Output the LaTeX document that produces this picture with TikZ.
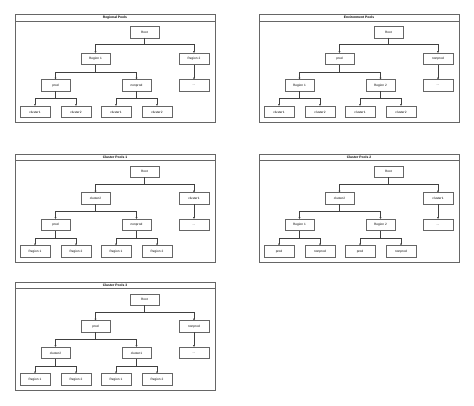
\documentclass[tikz,border=0pt]{standalone}
\usepackage{fontspec}
\setmainfont{Liberation Sans}
\usetikzlibrary{arrows.meta,positioning}

\begin{document}
\begin{tikzpicture}[
    node distance=1.45cm,
    box/.style={draw=black!60, line width=1.3pt, fill=white, minimum width=2.95cm, minimum height=1.15cm, inner sep=1pt, align=center, font=\fontsize{9}{10}\selectfont},
    frame/.style={draw=black!60, line width=1.3pt},
    ttl/.style={font=\fontsize{9.5}{11}\selectfont\bfseries},
    arr/.style={-{Triangle[length=5pt, width=5pt]}, draw=black!75, line width=1.3pt},
]
\useasboundingbox (0,0) rectangle (47.4,-40.5);

% Regional Pools
\begin{scope}[shift={(1.5,-1.45)}]
\draw[frame] (0,0) rectangle (20,-10.8);
\draw[frame] (0,-0.65) -- (20,-0.65);
\node[ttl] (reg-title) at (10,-0.325) {Regional Pools};
\node[box] (reg-root) at (12.95,-1.75) {Root};
\node[box, below=1.5cm of reg-root, xshift=-4.9cm] (reg-r1) {Region 1};
\node[box, below=1.5cm of reg-root, xshift=4.95cm] (reg-r2) {Region 2};
\node[box, below=of reg-r1, xshift=-4cm] (reg-prod) {prod};
\node[box, below=of reg-r1, xshift=4.1cm] (reg-nonprod) {nonprod};
\node[box, below=of reg-r2] (reg-dots) {...};
\node[box, below=of reg-prod, xshift=-2.05cm] (reg-c1) {cluster1};
\node[box, below=of reg-prod, xshift=2.05cm] (reg-c2) {cluster2};
\node[box, below=of reg-nonprod, xshift=-2.05cm] (reg-c3) {cluster1};
\node[box, below=of reg-nonprod, xshift=2.05cm] (reg-c4) {cluster2};
\draw[arr] (reg-root.south) -- ++(0,-0.65) -| (reg-r1.north);
\draw[arr] (reg-root.south) -- ++(0,-0.65) -| (reg-r2.north);
\draw[arr] (reg-r1.south) -- ++(0,-0.7) -| (reg-prod.north);
\draw[arr] (reg-r1.south) -- ++(0,-0.7) -| (reg-nonprod.north);
\draw[arr] (reg-r2) -- (reg-dots);
\draw[arr] (reg-prod.south) -- ++(0,-0.7) -| (reg-c1.north);
\draw[arr] (reg-prod.south) -- ++(0,-0.7) -| (reg-c2.north);
\draw[arr] (reg-nonprod.south) -- ++(0,-0.7) -| (reg-c3.north);
\draw[arr] (reg-nonprod.south) -- ++(0,-0.7) -| (reg-c4.north);
\end{scope}

% Environment Pools
\begin{scope}[shift={(25.9,-1.45)}]
\draw[frame] (0,0) rectangle (20,-10.8);
\draw[frame] (0,-0.65) -- (20,-0.65);
\node[ttl] (env-title) at (10,-0.325) {Environment Pools};
\node[box] (env-root) at (12.95,-1.75) {Root};
\node[box, below=1.5cm of env-root, xshift=-4.9cm] (env-prod) {prod};
\node[box, below=1.5cm of env-root, xshift=4.95cm] (env-nonprod) {nonprod};
\node[box, below=of env-prod, xshift=-4cm] (env-r1) {Region 1};
\node[box, below=of env-prod, xshift=4.1cm] (env-r2) {Region 2};
\node[box, below=of env-nonprod] (env-dots) {...};
\node[box, below=of env-r1, xshift=-2.05cm] (env-c1) {cluster1};
\node[box, below=of env-r1, xshift=2.05cm] (env-c2) {cluster2};
\node[box, below=of env-r2, xshift=-2.05cm] (env-c3) {cluster1};
\node[box, below=of env-r2, xshift=2.05cm] (env-c4) {cluster2};
\draw[arr] (env-root.south) -- ++(0,-0.65) -| (env-prod.north);
\draw[arr] (env-root.south) -- ++(0,-0.65) -| (env-nonprod.north);
\draw[arr] (env-prod.south) -- ++(0,-0.7) -| (env-r1.north);
\draw[arr] (env-prod.south) -- ++(0,-0.7) -| (env-r2.north);
\draw[arr] (env-nonprod) -- (env-dots);
\draw[arr] (env-r1.south) -- ++(0,-0.7) -| (env-c1.north);
\draw[arr] (env-r1.south) -- ++(0,-0.7) -| (env-c2.north);
\draw[arr] (env-r2.south) -- ++(0,-0.7) -| (env-c3.north);
\draw[arr] (env-r2.south) -- ++(0,-0.7) -| (env-c4.north);
\end{scope}

% Cluster Pools 1
\begin{scope}[shift={(1.5,-15.4)}]
\draw[frame] (0,0) rectangle (20,-10.8);
\draw[frame] (0,-0.65) -- (20,-0.65);
\node[ttl] (cp1-title) at (10,-0.325) {Cluster Pools 1};
\node[box] (cp1-root) at (12.95,-1.75) {Root};
\node[box, below=1.5cm of cp1-root, xshift=-4.9cm] (cp1-cl2) {cluster2};
\node[box, below=1.5cm of cp1-root, xshift=4.95cm] (cp1-cl1) {cluster1};
\node[box, below=of cp1-cl2, xshift=-4cm] (cp1-prod) {prod};
\node[box, below=of cp1-cl2, xshift=4.1cm] (cp1-nonprod) {nonprod};
\node[box, below=of cp1-cl1] (cp1-dots) {...};
\node[box, below=of cp1-prod, xshift=-2.05cm] (cp1-r1) {Region 1};
\node[box, below=of cp1-prod, xshift=2.05cm] (cp1-r2) {Region 2};
\node[box, below=of cp1-nonprod, xshift=-2.05cm] (cp1-r3) {Region 1};
\node[box, below=of cp1-nonprod, xshift=2.05cm] (cp1-r4) {Region 2};
\draw[arr] (cp1-root.south) -- ++(0,-0.65) -| (cp1-cl2.north);
\draw[arr] (cp1-root.south) -- ++(0,-0.65) -| (cp1-cl1.north);
\draw[arr] (cp1-cl2.south) -- ++(0,-0.7) -| (cp1-prod.north);
\draw[arr] (cp1-cl2.south) -- ++(0,-0.7) -| (cp1-nonprod.north);
\draw[arr] (cp1-cl1) -- (cp1-dots);
\draw[arr] (cp1-prod.south) -- ++(0,-0.7) -| (cp1-r1.north);
\draw[arr] (cp1-prod.south) -- ++(0,-0.7) -| (cp1-r2.north);
\draw[arr] (cp1-nonprod.south) -- ++(0,-0.7) -| (cp1-r3.north);
\draw[arr] (cp1-nonprod.south) -- ++(0,-0.7) -| (cp1-r4.north);
\end{scope}

% Cluster Pools 2
\begin{scope}[shift={(25.9,-15.4)}]
\draw[frame] (0,0) rectangle (20,-10.8);
\draw[frame] (0,-0.65) -- (20,-0.65);
\node[ttl] (cp2-title) at (10,-0.325) {Cluster Pools 2};
\node[box] (cp2-root) at (12.95,-1.75) {Root};
\node[box, below=1.5cm of cp2-root, xshift=-4.9cm] (cp2-cl2) {cluster2};
\node[box, below=1.5cm of cp2-root, xshift=4.95cm] (cp2-cl1) {cluster1};
\node[box, below=of cp2-cl2, xshift=-4cm] (cp2-r1) {Region 1};
\node[box, below=of cp2-cl2, xshift=4.1cm] (cp2-r2) {Region 2};
\node[box, below=of cp2-cl1] (cp2-dots) {...};
\node[box, below=of cp2-r1, xshift=-2.05cm] (cp2-e1) {prod};
\node[box, below=of cp2-r1, xshift=2.05cm] (cp2-e2) {nonprod};
\node[box, below=of cp2-r2, xshift=-2.05cm] (cp2-e3) {prod};
\node[box, below=of cp2-r2, xshift=2.05cm] (cp2-e4) {nonprod};
\draw[arr] (cp2-root.south) -- ++(0,-0.65) -| (cp2-cl2.north);
\draw[arr] (cp2-root.south) -- ++(0,-0.65) -| (cp2-cl1.north);
\draw[arr] (cp2-cl2.south) -- ++(0,-0.7) -| (cp2-r1.north);
\draw[arr] (cp2-cl2.south) -- ++(0,-0.7) -| (cp2-r2.north);
\draw[arr] (cp2-cl1) -- (cp2-dots);
\draw[arr] (cp2-r1.south) -- ++(0,-0.7) -| (cp2-e1.north);
\draw[arr] (cp2-r1.south) -- ++(0,-0.7) -| (cp2-e2.north);
\draw[arr] (cp2-r2.south) -- ++(0,-0.7) -| (cp2-e3.north);
\draw[arr] (cp2-r2.south) -- ++(0,-0.7) -| (cp2-e4.north);
\end{scope}

% Cluster Pools 3
\begin{scope}[shift={(1.5,-28.2)}]
\draw[frame] (0,0) rectangle (20,-10.8);
\draw[frame] (0,-0.65) -- (20,-0.65);
\node[ttl] (cp3-title) at (10,-0.325) {Cluster Pools 3};
\node[box] (cp3-root) at (12.95,-1.75) {Root};
\node[box, below=1.5cm of cp3-root, xshift=-4.9cm] (cp3-prod) {prod};
\node[box, below=1.5cm of cp3-root, xshift=4.95cm] (cp3-nonprod) {nonprod};
\node[box, below=of cp3-prod, xshift=-4cm] (cp3-cl2) {cluster2};
\node[box, below=of cp3-prod, xshift=4.1cm] (cp3-cl1) {cluster1};
\node[box, below=of cp3-nonprod] (cp3-dots) {...};
\node[box, below=of cp3-cl2, xshift=-2.05cm] (cp3-r1) {Region 1};
\node[box, below=of cp3-cl2, xshift=2.05cm] (cp3-r2) {Region 2};
\node[box, below=of cp3-cl1, xshift=-2.05cm] (cp3-r3) {Region 1};
\node[box, below=of cp3-cl1, xshift=2.05cm] (cp3-r4) {Region 2};
\draw[arr] (cp3-root.south) -- ++(0,-0.65) -| (cp3-prod.north);
\draw[arr] (cp3-root.south) -- ++(0,-0.65) -| (cp3-nonprod.north);
\draw[arr] (cp3-prod.south) -- ++(0,-0.7) -| (cp3-cl2.north);
\draw[arr] (cp3-prod.south) -- ++(0,-0.7) -| (cp3-cl1.north);
\draw[arr] (cp3-nonprod) -- (cp3-dots);
\draw[arr] (cp3-cl2.south) -- ++(0,-0.7) -| (cp3-r1.north);
\draw[arr] (cp3-cl2.south) -- ++(0,-0.7) -| (cp3-r2.north);
\draw[arr] (cp3-cl1.south) -- ++(0,-0.7) -| (cp3-r3.north);
\draw[arr] (cp3-cl1.south) -- ++(0,-0.7) -| (cp3-r4.north);
\end{scope}
\end{tikzpicture}
\end{document}
